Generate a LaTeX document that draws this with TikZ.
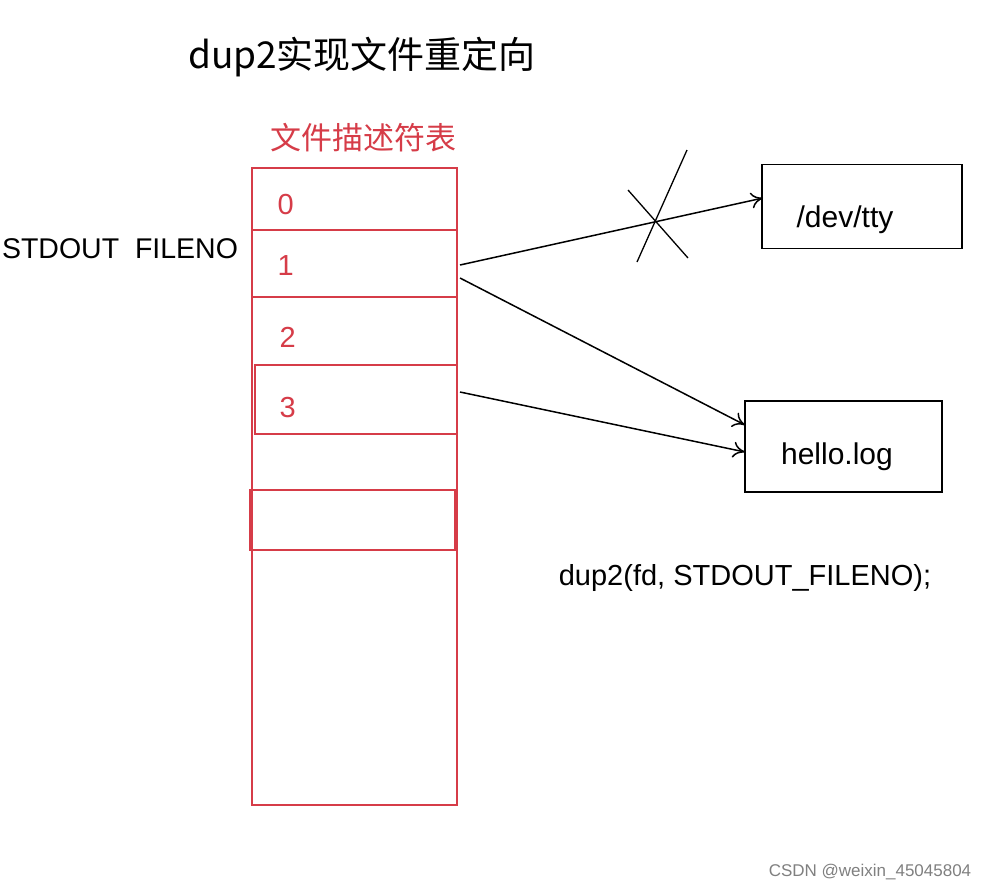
\documentclass[tikz,border=0pt]{standalone}
\usepackage{fontspec}
\setmainfont{Liberation Sans}
\newfontfamily\cjk{Noto Sans CJK SC}
\usetikzlibrary{arrows.meta}
\definecolor{tred}{RGB}{214,60,72}
\begin{document}
\begin{tikzpicture}[x=1pt,y=-1pt,
  redline/.style={draw=tred,line width=1.6pt},
  rednum/.style={text=tred,font=\fontsize{29}{31}\selectfont,anchor=west},
  fbox/.style={draw=black,line width=1.6pt,minimum width=200pt,minimum height=84pt,inner sep=0pt},
  conn/.style={draw=black,line width=1.5pt,-{To[length=12pt,width=16pt]}},
  lbl/.style={font=\fontsize{30}{33}\selectfont}]
\useasboundingbox (0,0) rectangle (984,892);
\fill[white] (0,0) rectangle (984,892);
\node[font=\cjk\fontsize{37}{40}\selectfont] (title) at (362,57) {dup2实现文件重定向};
\node[text=tred,font=\cjk\fontsize{31}{34}\selectfont] (tabtitle) at (363,138) {文件描述符表};
% table
\draw[redline] (252,168) rectangle (457,805);
\draw[redline] (252,230) -- (457,230);
\draw[redline] (252,297) -- (457,297);
\draw[redline] (255,365) rectangle (457,434);
\draw[redline,line width=2.4pt] (250,490) rectangle (455,550);
\node[rednum] (n0) at (274,205) {0};
\node[rednum] (n1) at (274,266) {1};
\node[rednum] (n2) at (276,337) {2};
\node[rednum] (n3) at (276,408) {3};
\coordinate (s1) at (460,265);
\coordinate (s2) at (460,278);
\coordinate (s3) at (460,392);
\node[font=\fontsize{28.5}{31}\selectfont] (std) at (120,249) {STDOUT\ \ FILENO};
\node[fbox] (tty) at (862,206.5) {};
\node[lbl] at (845,220) {/dev/tty};
\node[fbox,minimum width=197pt,minimum height=91pt] (hello) at (843.5,446.5) {};
\node[lbl] at (837,457) {hello.log};
\coordinate (t1) at (763,198);
\coordinate (t2) at (745,425);
\coordinate (t3) at (745,452);
\draw[conn] (s1) -- (t1);
\draw[conn] (s2) -- (t2);
\draw[conn] (s3) -- (t3);
% cross
\coordinate (c1) at (687,150); \coordinate (c2) at (637,262);
\coordinate (c3) at (628,190); \coordinate (c4) at (688,258);
\draw[line width=1.3pt] (c1) -- (c2);
\draw[line width=1.3pt] (c3) -- (c4);
\node[font=\fontsize{29}{31}\selectfont] (call) at (745,578) {dup2(fd, STDOUT\_FILENO);};
\node[text=gray,font=\fontsize{17}{19}\selectfont] (wm) at (870,872) {CSDN @weixin\_45045804};
\end{tikzpicture}
\end{document}
